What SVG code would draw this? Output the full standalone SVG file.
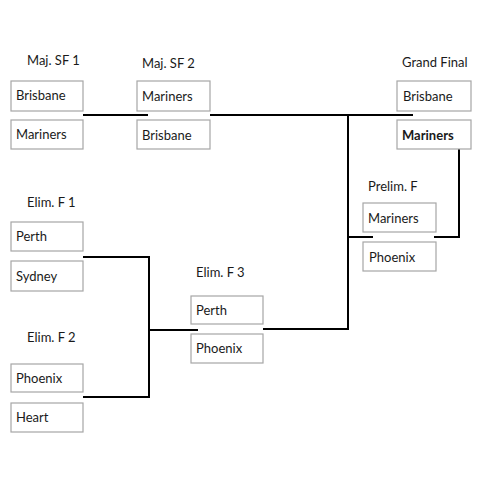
<svg xmlns="http://www.w3.org/2000/svg" width="480" height="480" viewBox="0 0 480 480">
<style>
.box rect{fill:#fff;stroke:#a6a6a6;stroke-width:1.2}
text{font-family:"Lato","Liberation Sans",sans-serif;font-size:13px;fill:#1a1a1a}
.b{font-weight:bold}
.c{fill:none;stroke:#000;stroke-width:2}
</style>
<rect width="480" height="480" fill="#fff"/>
<g id="connectors">
<path class="c" d="M83,115 H148"/>
<path class="c" d="M210,115 H413"/>
<path class="c" d="M348,115 V329 H263"/>
<path class="c" d="M348,237 H373"/>
<path class="c" d="M459,149 V237 H434"/>
<path class="c" d="M83,257 H149 V397 H83"/>
<path class="c" d="M149,330 H198"/>
</g>
<g id="majsf1" class="box">
<text x="27" y="65">Maj. SF 1</text>
<rect x="11" y="81" width="72" height="30"/><text x="16" y="100">Brisbane</text>
<rect x="11" y="120" width="72" height="29"/><text x="16" y="139">Mariners</text>
</g>
<g id="majsf2" class="box">
<text x="142" y="68">Maj. SF 2</text>
<rect x="137" y="81" width="73" height="30"/><text x="142" y="101">Mariners</text>
<rect x="137" y="120" width="73" height="29"/><text x="142" y="140">Brisbane</text>
</g>
<g id="grandfinal" class="box">
<text x="402" y="67">Grand Final</text>
<rect x="397" y="81" width="74" height="30"/><text x="403" y="101">Brisbane</text>
<rect x="397" y="120" width="74" height="29"/><text class="b" x="402" y="140">Mariners</text>
</g>
<g id="prelimf" class="box">
<text x="368" y="191">Prelim. F</text>
<rect x="363" y="203" width="73" height="29"/><text x="368" y="223">Mariners</text>
<rect x="363" y="242" width="73" height="29"/><text x="369" y="262">Phoenix</text>
</g>
<g id="elimf1" class="box">
<text x="27" y="207">Elim. F 1</text>
<rect x="11" y="222" width="72" height="29"/><text x="16" y="241">Perth</text>
<rect x="11" y="261" width="72" height="30"/><text x="16" y="281">Sydney</text>
</g>
<g id="elimf3" class="box">
<text x="196" y="277">Elim. F 3</text>
<rect x="191" y="296" width="72" height="28"/><text x="196" y="315">Perth</text>
<rect x="191" y="334" width="72" height="29"/><text x="196" y="353">Phoenix</text>
</g>
<g id="elimf2" class="box">
<text x="27" y="342">Elim. F 2</text>
<rect x="11" y="364" width="72" height="28"/><text x="16" y="383">Phoenix</text>
<rect x="11" y="403" width="72" height="29"/><text x="16" y="422">Heart</text>
</g>
</svg>
